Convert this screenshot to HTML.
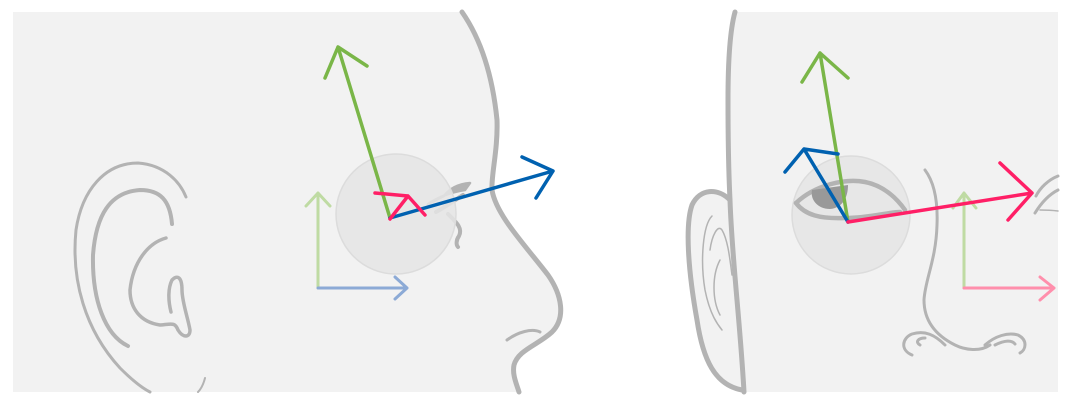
<!DOCTYPE html>
<html><head><style>html,body{margin:0;padding:0;background:#fff}svg{display:block}</style></head>
<body>
<svg width="1071" height="405" viewBox="0 0 1071 405" xmlns="http://www.w3.org/2000/svg" fill="none" stroke-linecap="round" stroke-linejoin="round">
<path d="M13 12 L462 12 C478 35 492 70 497 120 C498 150 491 175 492 190 C496 215 525 245 548 275 C562 295 566 318 552 332 C538 345 518 350 514 365 C512 375 517 385 519 392 L13 392 Z" fill="#f2f2f2"/>
<path d="M735 12 L1058 12 L1058 392 L745 392 C742 380 742 360 740 330 C736 290 732 240 730 200 C728 150 727 90 729 55 C730 35 733 20 735 12 Z" fill="#f2f2f2"/>
<path d="M730 200 C718 188 700 188 692 205 C685 225 688 270 697 320 C703 360 715 385 742 390 L745 392 L742 300 Z" fill="#f2f2f2"/>
<path d="M462 12 C478 35 492 70 497 120 C498 150 491 175 492 190 C496 215 525 245 548 275 C562 295 566 318 552 332 C538 345 518 350 514 365 C512 375 517 385 519 392" stroke="#b3b3b3" stroke-width="5"/>
<path d="M507 340 C518 332 532 328 540 332" stroke="#b3b3b3" stroke-width="3"/>
<g stroke="#b3b3b3">
<path d="M186 197 C180 182 165 165 138 163 C105 163 82 190 76 230 C71 280 85 330 120 368 C132 380 142 388 150 392" stroke-width="3"/>
<path d="M172 224 C170 200 160 190 140 190 C110 192 96 215 93 255 C92 300 105 335 128 346" stroke-width="4"/>
<path d="M166 238 C148 243 133 262 130 290 C130 308 140 322 160 325 C172 324 175 322 178 330 C183 338 190 338 190 330 C188 318 182 302 182 290 C182 278 178 274 172 280 C168 288 168 300 171 312" stroke-width="3.5"/>
<path d="M205 378 C203 386 200 390 198 392" stroke-width="2"/>
</g>
<g stroke="#b3b3b3" fill="#b3b3b3">
<path d="M428 204 C440 196 452 192 465 190 L470 183 C458 184 450 188 444 196 Z" stroke-width="2.5"/>
<path d="M436 212 C447 206 455 200 463 195 M448 214 C456 222 463 228 459 236 C456 240 456 245 458 247" stroke-width="4" fill="none"/>
</g>
<circle cx="396" cy="214" r="60" fill="#e5e5e5" fill-opacity="0.85" stroke="#dcdcdc" stroke-width="1.5"/>
<g stroke-width="3">
<path d="M318 288 L318 193 M306 206 L318 193 L330 206" stroke="#bfdba3"/>
<path d="M318 288 L407 288 M395 277 L407 288 L395 299" stroke="#8caad6"/>
</g>
<g stroke-width="3.5">
<path d="M390 218 L338 47 M325 78 L338 47 L367 66" stroke="#7ab648"/>
<path d="M390 218 L553 171 M522 157 L553 171 L536 198" stroke="#0061b0"/>
<path d="M375 193 L408 196 L425 215 M390 219 L408 196" stroke="#ff1f66"/>
</g>
<g stroke="#b3b3b3">
<path d="M735 12 C730 30 728 60 728 100 C728 140 729 180 730 200 C732 260 740 320 744 392" stroke-width="5"/>
<path d="M730 200 C718 188 700 188 692 205 C685 225 688 270 697 320 C703 360 715 385 742 390" stroke-width="5"/>
<path d="M712 216 C703 225 700 260 705 290 C710 315 718 325 722 330 M710 250 C712 235 718 224 722 230 C728 240 730 260 732 275 M720 260 C712 275 712 300 720 315" stroke-width="1.5"/>
</g>
<circle cx="851" cy="215" r="59" fill="#e5e5e5" fill-opacity="0.85" stroke="#dcdcdc" stroke-width="1.5"/>
<g stroke="#b3b3b3">
<path d="M796 203 C815 185 845 178 865 182 C885 186 898 200 905 210" stroke-width="4.5"/>
<path d="M796 203 C805 215 820 219 845 218 C870 218 888 212 900 212" stroke-width="4.5"/>
<path d="M812 190 C810 200 818 209 830 209 C842 208 848 198 848 185 Z" fill="#999" stroke="none"/>
</g>
<g stroke="#b3b3b3">
<path d="M925 170 C934 182 938 200 937 225 C936 260 925 280 924 300 C924 320 935 335 955 345 C965 350 980 352 990 345" stroke-width="3"/>
<path d="M912 355 C900 350 902 338 912 334 C925 330 935 335 945 345 M920 345 C915 342 918 338 925 338" stroke-width="3"/>
<path d="M985 345 C995 336 1008 332 1018 335 C1028 340 1026 350 1020 353 M995 345 C1005 340 1012 340 1015 344" stroke-width="3"/>
<path d="M1058 176 C1048 180 1040 188 1036 196 M1058 190 C1048 195 1040 205 1035 213" stroke-width="3"/>
<path d="M1040 210 C1045 210 1050 210 1058 211" stroke-width="1.5"/>
</g>
<g stroke-width="3">
<path d="M964 288 L964 193 M953 208 L964 193 L976 208" stroke="#bfdba3"/>
<path d="M964 288 L1054 288 M1040 277 L1054 288 L1040 300" stroke="#ff8fac"/>
</g>
<g stroke-width="3.5">
<path d="M848 222 L820 53 M802 82 L820 53 L848 78" stroke="#7ab648"/>
<path d="M848 222 L804 149 M785 172 L804 149 L838 154" stroke="#0061b0"/>
<path d="M848 222 L1032 193 M1000 163 L1032 193 L1008 220" stroke="#ff1f66"/>
</g>
</svg>
</body></html>
